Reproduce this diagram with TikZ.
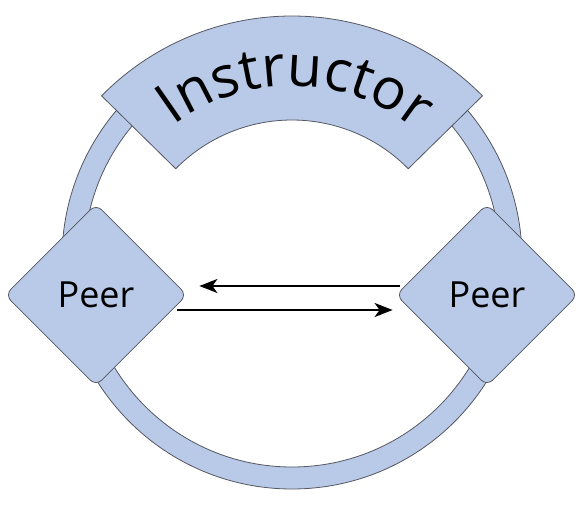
\documentclass[tikz,border=0pt]{standalone}
\usepackage{fontspec}
\setmainfont{Open Sans}
\usetikzlibrary{shapes.geometric, decorations.text, arrows.meta}
\definecolor{peerblue}{RGB}{185,201,232}
\definecolor{edgegray}{RGB}{85,88,98}

\begin{document}
\begin{tikzpicture}[x=1pt, y=1pt,
        shapestyle/.style={fill=peerblue, draw=edgegray, line width=0.8pt},
        peerstyle/.style={shapestyle, diamond, minimum width=182pt, minimum height=182pt, inner sep=0pt, rounded corners=8pt, font=\fontsize{36}{36}\selectfont},
        flow/.style={-{Stealth[length=18pt, width=14pt, inset=5pt]}, line width=2.6pt}]
                \useasboundingbox (0,0) rectangle (585,509);
                % Ring
                \draw[shapestyle, even odd rule] (292,250) circle[radius=230] (292,250) circle[radius=208];
                % Instructor banner
                \draw[shapestyle] ([shift={(135.5:267)}]292,226) arc[start angle=135.5, end angle=44.5, radius=267]
                    -- ([shift={(44.5:163)}]292,226) arc[start angle=44.5, end angle=135.5, radius=163] -- cycle;
                \path[decorate, decoration={text along path, text align=center,
                    text={|\fontsize{57}{57}\selectfont|Instructor}}]
                    ([shift={(134:197)}]292,226) arc[start angle=134, end angle=44, radius=197];
                %%%
                % Peers
                \node[peerstyle] (peerL) at (96,214) {Peer};
                \node[peerstyle] (peerR) at (487,214) {Peer};
                % Connections between peers
                \draw[flow] ([shift={(4,9)}]peerR.west) -- ([shift={(12,9)}]peerL.east);
                \draw[flow] ([shift={(-10,-15)}]peerL.east) -- ([shift={(-3,-15)}]peerR.west);
                %%%
            \end{tikzpicture}
\end{document}
